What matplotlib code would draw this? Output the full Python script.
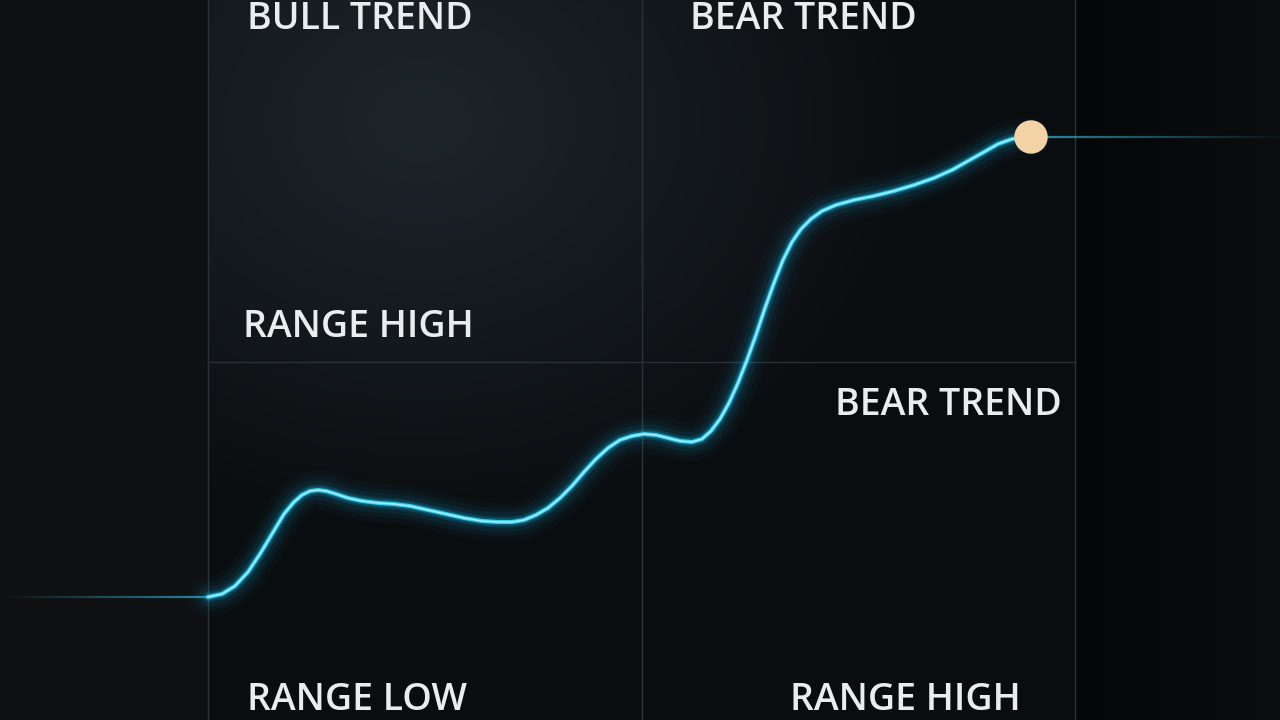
import matplotlib
matplotlib.use('Agg')
import matplotlib.pyplot as plt
from matplotlib.collections import LineCollection
import numpy as np

# curve (pixel coords, y down)
lineX = [0, 100, 208, 222, 235, 248, 260, 272, 284, 294, 302, 310, 318, 326, 336, 348, 362, 378,
         394, 410, 428, 446, 464, 482, 498, 512, 524, 536, 548, 560, 572, 584, 596, 608, 620, 632,
         644, 656, 668, 680, 692, 702, 711, 720, 729, 738, 747, 756, 765, 774, 783, 792, 801, 811,
         822, 836, 854, 874, 894, 914, 934, 952, 968, 984, 998, 1012, 1031, 1075, 1180, 1280]
lineY = [598, 597, 597, 594, 586, 572, 554, 534, 514, 502, 495, 491, 490, 491, 494, 498, 501, 503,
         504, 506, 510, 514, 518, 521, 522, 522, 520, 515, 508, 498, 486, 472, 459, 448, 440, 436,
         434, 435, 438, 441, 442, 439, 431, 419, 403, 383, 360, 335, 308, 283, 260, 242, 229, 219,
         211, 205, 200, 196, 191, 185, 178, 170, 161, 152, 144, 139, 137, 137, 137, 137]
dotX, dotY = 1031, 137

labels = ["BULL TREND", "BEAR TREND", "RANGE HIGH", "BEAR TREND", "RANGE LOW", "RANGE HIGH"]
labelX = [247, 690, 243, 835, 247, 790]
labelY = [29, 29, 337, 415, 710, 710]   # baselines

gridX = [208, 642, 1075]
gridY = 362

W, H = 1280, 720

fig = plt.figure(figsize=(12.8, 7.2), dpi=100)
ax = fig.add_axes([0, 0, 1, 1])
ax.set_xlim(0, W)
ax.set_ylim(H, 0)
ax.axis('off')

# background: dark base with lighter panel at top-left
yy, xx = np.mgrid[0:H, 0:W]
base = np.zeros((H, W, 3))
base[:] = np.array([14, 16, 18]) / 255.0
right = xx >= 1075
fade = np.clip((xx - 1075) / 205.0, 0, 1)
for c, (a, b) in enumerate([(5, 12), (6, 13), (7, 14)]):
    base[..., c] = np.where(right, (a + (b - a) * fade) / 255.0, base[..., c])
panel = (xx >= 208) & (xx < 1075)
d = np.sqrt(((xx - 420) / 520.0) ** 2 + ((yy - 120) / 420.0) ** 2)
t = np.clip(d, 0, 1)
top = np.array([30, 37, 42]) / 255.0
bot = np.array([10, 13, 16]) / 255.0
for c in range(3):
    base[..., c] = np.where(panel, top[c] * (1 - t) + bot[c] * t, base[..., c])
ax.imshow(base, extent=[0, W, H, 0], aspect='auto', zorder=0)

# grid lines
for gx in gridX:
    ax.plot([gx, gx], [0, H], color='#2b3338', lw=1.0, zorder=1)
ax.plot([gridX[0], gridX[-1]], [gridY, gridY], color='#283035', lw=1.0, zorder=1)

lx = np.array(lineX, dtype=float)
ly = np.array(lineY, dtype=float)
i0 = lineX.index(208)
i1 = lineX.index(1031)


def fading_tail(x0, x1, y, a0, a1):
    # thin tail whose alpha fades along x
    xs = np.linspace(x0, x1, 60)
    segs = [[(xs[k], y), (xs[k + 1], y)] for k in range(len(xs) - 1)]
    al = np.linspace(a0, a1, len(segs))
    cols = [(0.2, 0.68, 0.80, a) for a in al]
    ax.add_collection(LineCollection(segs, colors=cols, linewidths=1.6, zorder=2))


fading_tail(lx[0], lx[i0], ly[i0], 0.0, 0.75)
fading_tail(lx[i1], lx[-1], ly[i1], 0.8, 0.05)

# glowing main curve
mx, my = lx[i0:i1 + 1], ly[i0:i1 + 1]
for lw, al in [(28, 0.03), (20, 0.05), (14, 0.08), (8, 0.16), (5, 0.3)]:
    ax.plot(mx, my, color='#10b0e0', lw=lw, alpha=al, solid_capstyle='round',
            solid_joinstyle='round', zorder=3)
ax.plot(mx, my, color='#3fd2f2', lw=2.8, solid_capstyle='round', solid_joinstyle='round', zorder=4)
ax.plot(mx, my, color='#a8f0ff', lw=1.0, solid_capstyle='round', solid_joinstyle='round', zorder=4)

ax.scatter([dotX], [dotY], s=580, color='#f3d3a6', edgecolors='none', zorder=5)

for txt, x, y in zip(labels, labelX, labelY):
    ax.text(x, y, txt, color='#e9edf0', fontsize=27, family='Open Sans', fontweight=600,
            ha='left', va='baseline', zorder=6)

plt.savefig('out.png', dpi=100)
